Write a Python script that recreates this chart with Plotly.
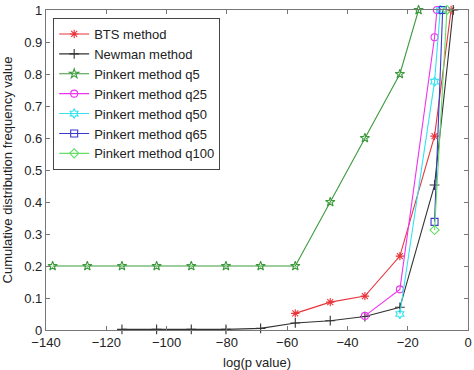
import plotly.graph_objects as go

# ---- data ----
bts_x = [-57.3, -45.7, -34.2, -22.6, -11.1, -5.6]
bts_y = [0.052, 0.087, 0.106, 0.231, 0.606, 1.0]

newman_x = [-114.8, -103.3, -91.8, -80.3, -68.8, -57.3, -45.7, -34.2, -22.6, -11.1, -4.9]
newman_y = [0.002, 0.002, 0.002, 0.002, 0.005, 0.022, 0.029, 0.042, 0.071, 0.453, 1.0]

q5_x = [-137.8, -126.3, -114.8, -103.3, -91.8, -80.3, -68.8, -57.3, -45.7, -34.2, -22.6, -16.4]
q5_y = [0.2, 0.2, 0.2, 0.2, 0.2, 0.2, 0.2, 0.2, 0.4, 0.6, 0.8, 1.0]

q25_x = [-34.2, -22.6, -11.1, -10.3]
q25_y = [0.044, 0.127, 0.915, 1.0]

q50_x = [-22.6, -11.1, -9.2]
q50_y = [0.05, 0.776, 1.0]

q65_x = [-11.1, -8.4]
q65_y = [0.338, 1.0]

q100_x = [-11.1, -7.0]
q100_y = [0.3125, 1.0]

x_ticks = [-140, -120, -100, -80, -60, -40, -20, 0]
y_ticks = [0, 0.1, 0.2, 0.3, 0.4, 0.5, 0.6, 0.7, 0.8, 0.9, 1]
y_tick_labels = ["0", "0.1", "0.2", "0.3", "0.4", "0.5", "0.6", "0.7", "0.8", "0.9", "1"]

series = [
    ("BTS method", bts_x, bts_y, "#e8343a", "asterisk-open"),
    ("Newman method", newman_x, newman_y, "#333333", "cross-thin-open"),
    ("Pinkert method q5", q5_x, q5_y, "#3c9a3c", "star-open"),
    ("Pinkert method q25", q25_x, q25_y, "#ee33ee", "circle-open"),
    ("Pinkert method q50", q50_x, q50_y, "#33e3f0", "hexagram-open"),
    ("Pinkert method q65", q65_x, q65_y, "#3a3acc", "square-open"),
    ("Pinkert method q100", q100_x, q100_y, "#66dd66", "diamond-open"),
]

fig = go.Figure()
for name, xs, ys, col, sym in series:
    fig.add_trace(go.Scatter(
        x=xs, y=ys, name=name, mode="lines+markers",
        line=dict(color=col, width=1.1),
        marker=dict(symbol=sym, size=7, color=col, line=dict(color=col, width=1.1)),
        cliponaxis=False,
    ))

axis_common = dict(
    showgrid=False, zeroline=False, showline=True, mirror="ticks",
    linecolor="#777777", linewidth=1.2, ticks="inside", ticklen=4,
    tickcolor="#777777", tickfont=dict(size=13, color="#222222"),
    automargin=False,
)

fig.update_layout(
    width=474, height=370,
    margin=dict(l=46, r=6, t=10, b=40),
    paper_bgcolor="white", plot_bgcolor="white",
    font=dict(family="Liberation Sans, Arial, sans-serif", color="#222222", size=13),
    xaxis=dict(range=[-140, 0], tickvals=x_ticks, ticklabelstandoff=0,
               title=dict(text="log(p value)", font=dict(size=13)), **axis_common),
    yaxis=dict(range=[0, 1], tickvals=y_ticks, ticktext=y_tick_labels,
               title=dict(text="Cumulative distribution frequency value", font=dict(size=13)), **axis_common),
    legend=dict(x=0.017, y=0.975, xanchor="left", yanchor="top",
                bordercolor="#444444", borderwidth=1, bgcolor="white",
                font=dict(size=13, color="#222222"), tracegroupgap=0,
                itemwidth=30),
    showlegend=True,
)

fig.write_html("out.html", config={"displayModeBar": False},
               post_script="document.body.style.margin='0';document.body.style.padding='0';")
